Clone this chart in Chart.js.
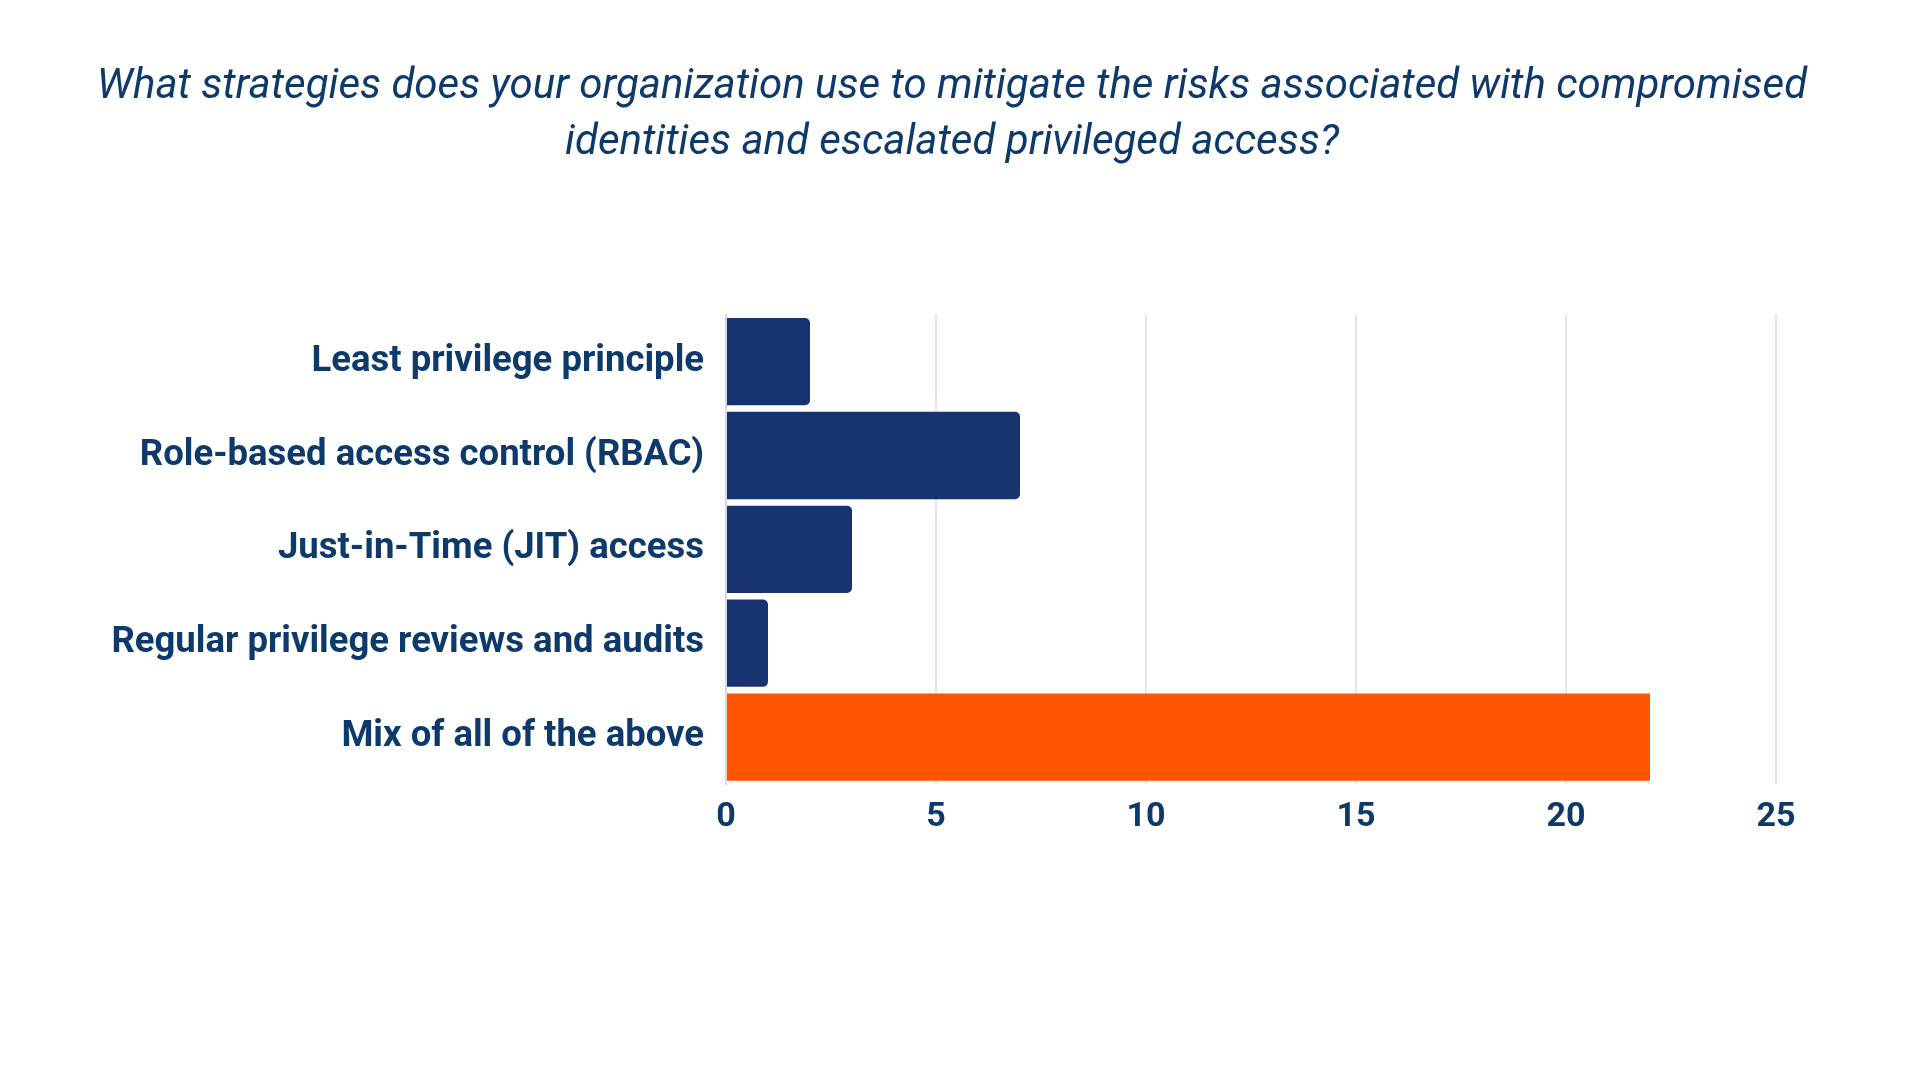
<!DOCTYPE html>
<html>
<head>
<meta charset="utf-8">
<script src="https://cdn.jsdelivr.net/npm/chart.js@4.4.1/dist/chart.umd.min.js"></script>
<style>
  html, body { margin: 0; padding: 0; background: #ffffff; }
  #wrap { width: 1920px; height: 1080px; position: relative; }
</style>
</head>
<body>
<div id="wrap"><canvas id="c" width="1920" height="1080"></canvas></div>
<script>
const titleLines = [
  "What strategies does your organization use to mitigate the risks associated with compromised",
  "identities and escalated privileged access?"
];
const categories = [
  "Least privilege principle",
  "Role-based access control (RBAC)",
  "Just-in-Time (JIT) access",
  "Regular privilege reviews and audits",
  "Mix of all of the above"
];
const responses = [2, 7, 3, 1, 22];
const barColors = ["#173370", "#173370", "#173370", "#173370", "#FF5500"];
const barRadii = [5, 5, 5, 5, 0];
const xTicks = [0, 5, 10, 15, 20, 25];

const textColor = "#0e3a6b";

new Chart(document.getElementById("c"), {
  type: "bar",
  data: {
    labels: categories,
    datasets: [{
      data: responses,
      backgroundColor: barColors,
      borderRadius: barRadii,
      borderSkipped: "start",
      barPercentage: 0.93,
      categoryPercentage: 1.0
    }]
  },
  options: {
    indexAxis: "y",
    responsive: false,
    animation: false,
    devicePixelRatio: 1,
    layout: { padding: { left: 0, right: 16, top: 0, bottom: 236 } },
    plugins: {
      legend: { display: false },
      tooltip: { enabled: false },
      title: {
        display: true,
        text: titleLines,
        color: textColor,
        font: { family: "Roboto", style: "italic", weight: "normal", size: 42, lineHeight: 1.33 },
        padding: { top: 60, bottom: 143 }
      }
    },
    scales: {
      x: {
        min: 0,
        max: 25,
        afterBuildTicks: (s) => { s.ticks = xTicks.map(v => ({ value: v })); },
        afterFit: (s) => { s.height = 60; },
        grid: { color: "#e2e6ec", lineWidth: 2, drawTicks: false },
        border: { display: false },
        ticks: {
          color: textColor,
          padding: 13,
          font: { family: "Roboto", weight: "bold", size: 34 }
        }
      },
      y: {
        afterFit: (s) => { s.width = 726; },
        grid: { display: false },
        border: { display: true, color: "#d5dae2", width: 2 },
        ticks: {
          color: textColor,
          padding: 14,
          font: { family: "Roboto", weight: "bold", size: 36.5 }
        }
      },
      spacer: {
        axis: "y",
        position: "right",
        display: true,
        afterFit: (s) => { s.width = 128; },
        grid: { display: false },
        border: { display: false },
        ticks: { display: false }
      }
    }
  }
});
</script>
</body>
</html>
